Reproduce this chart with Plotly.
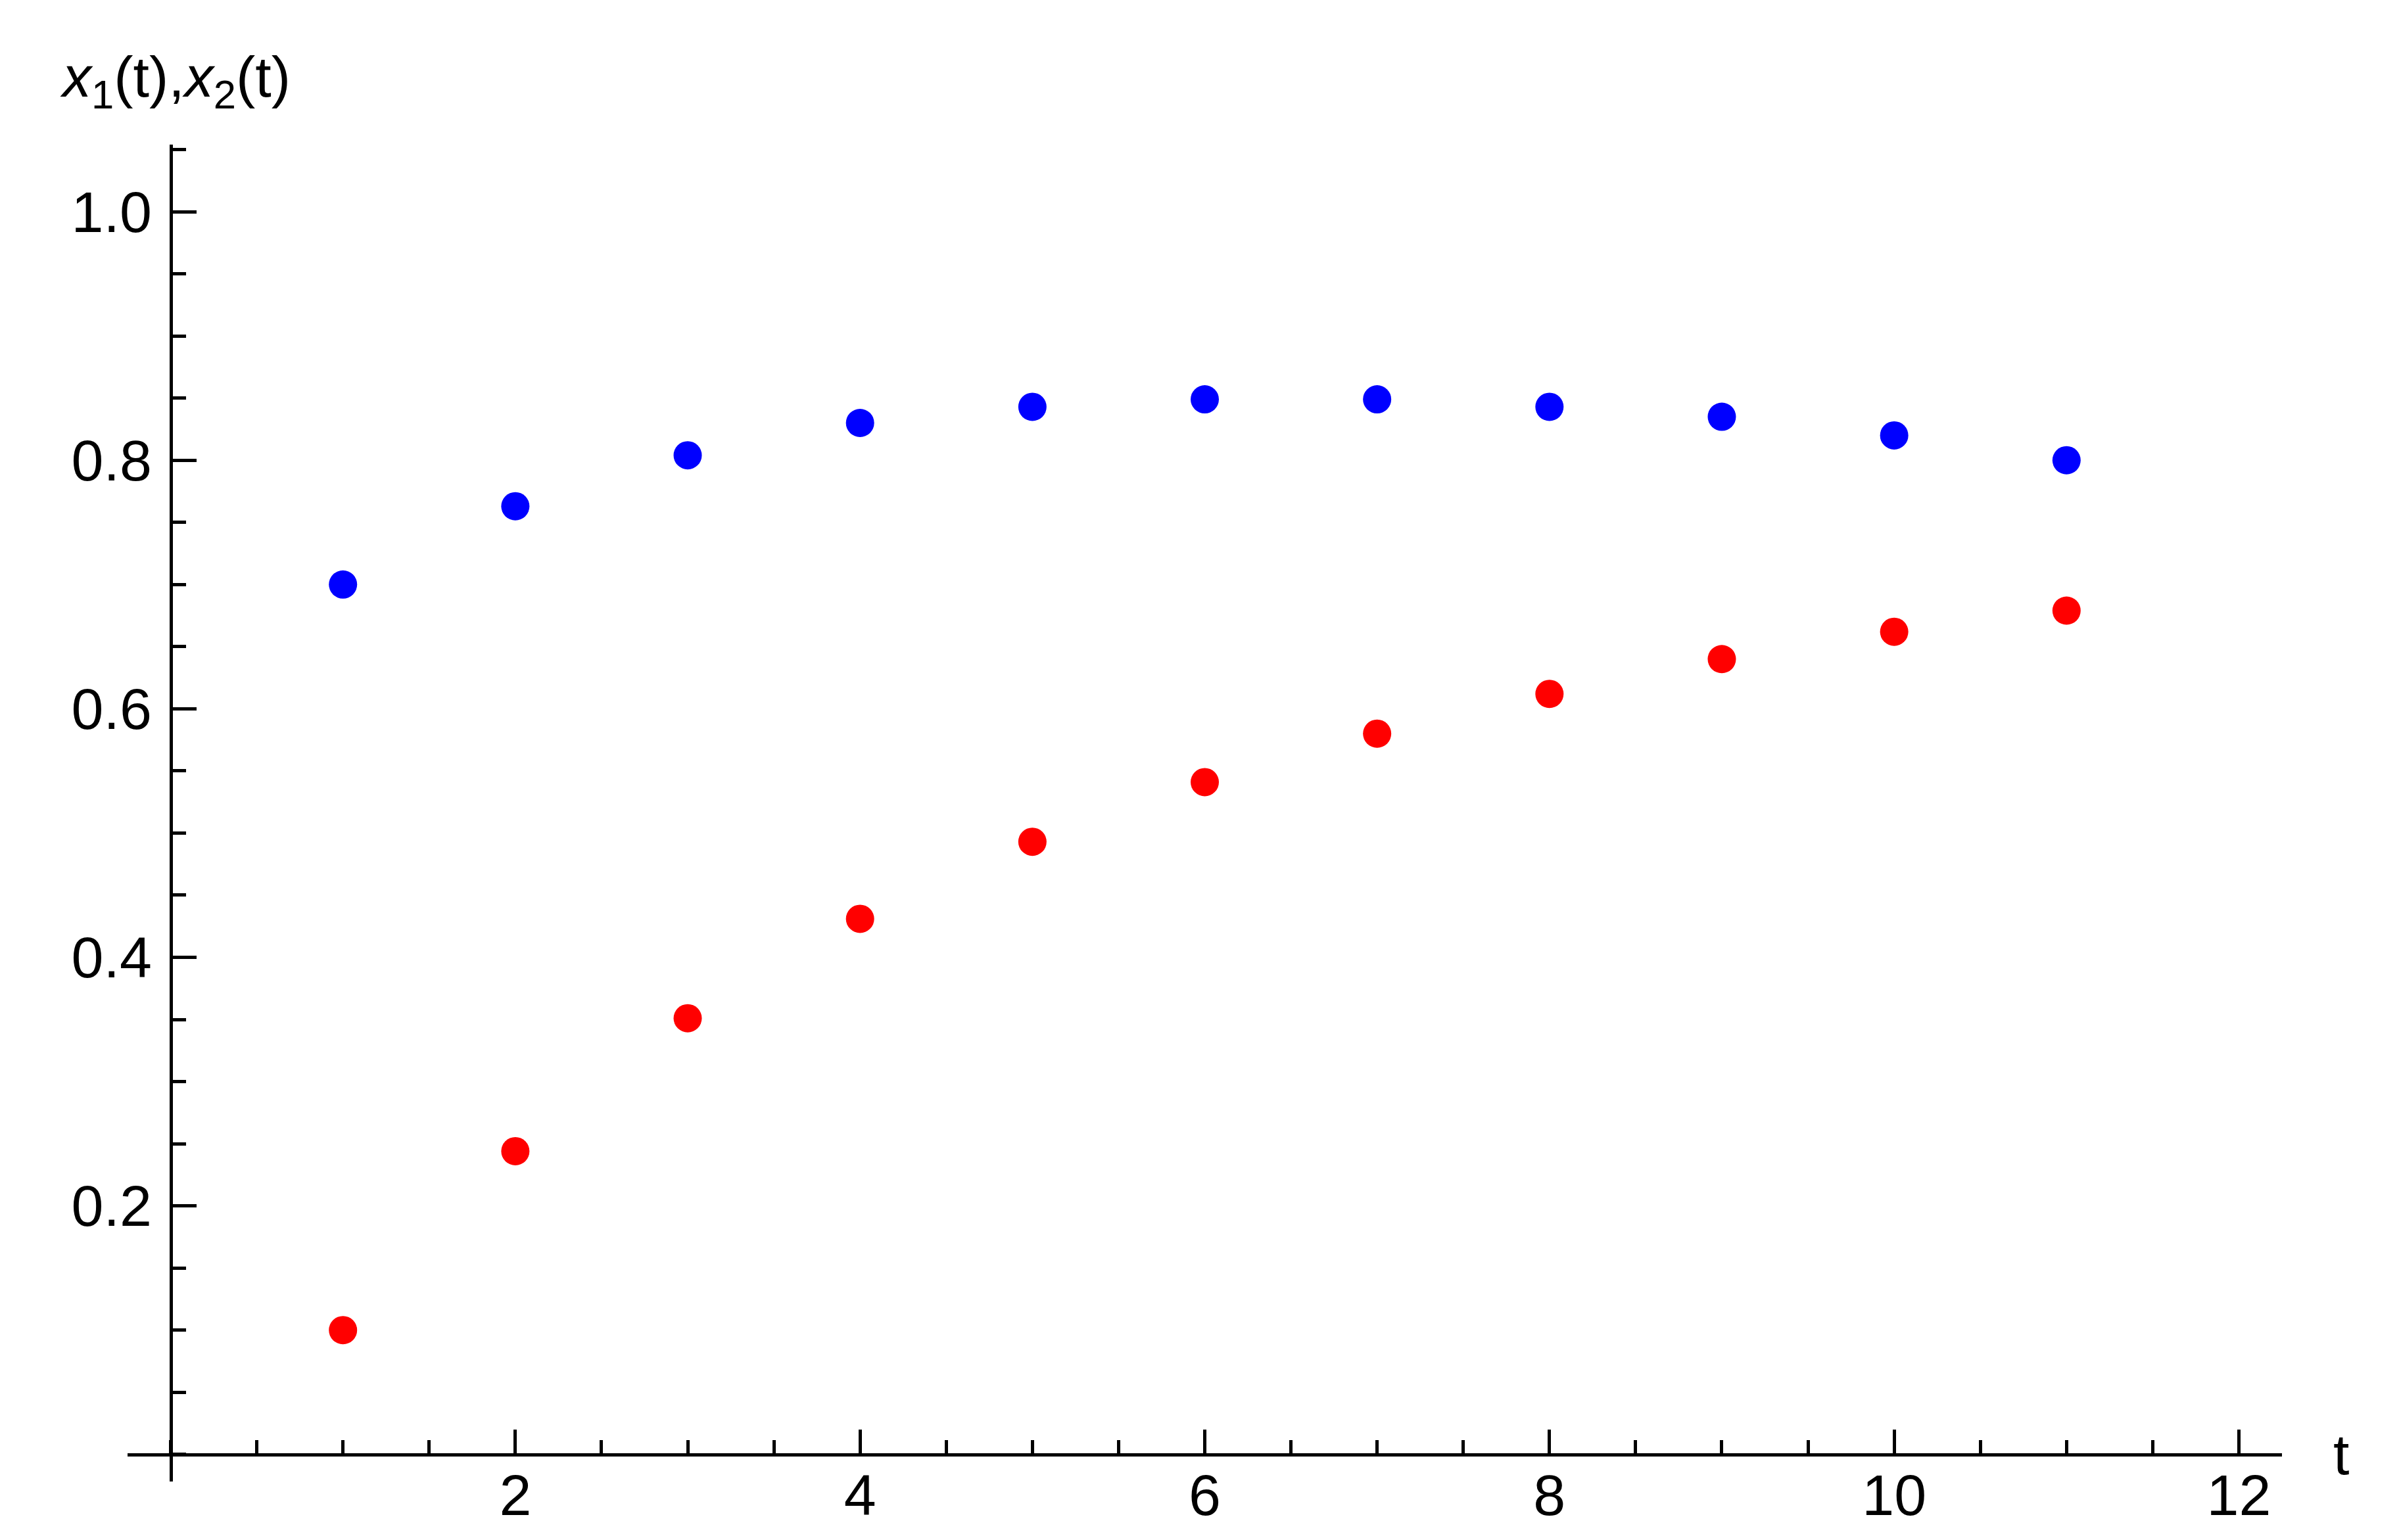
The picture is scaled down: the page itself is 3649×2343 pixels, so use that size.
import plotly.graph_objects as go
import numpy as np

t = [1, 2, 3, 4, 5, 6, 7, 8, 9, 10, 11]
x1 = [0.700, 0.763, 0.804, 0.830, 0.843, 0.849, 0.849, 0.843, 0.835, 0.820, 0.800]
x2 = [0.100, 0.244, 0.351, 0.431, 0.493, 0.541, 0.580, 0.612, 0.640, 0.662, 0.679]
x_ticks = [2, 4, 6, 8, 10, 12]
y_ticks = [0.2, 0.4, 0.6, 0.8, 1.0]
y_tick_text = ["0.2", "0.4", "0.6", "0.8", "1.0"]

W, H = 3649, 2343
ML, MR, MT, MB = 186, 186, 212, 97
XR = [-0.25, 12.25]
YR = [-0.0218, 1.054]
FONT = "Liberation Sans, Arial, sans-serif"

fig = go.Figure()
fig.add_trace(go.Scatter(x=t, y=x1, mode="markers",
                         marker=dict(color="#0000FF", size=43, line=dict(width=0))))
fig.add_trace(go.Scatter(x=t, y=x2, mode="markers",
                         marker=dict(color="#FF0000", size=43, line=dict(width=0))))

xpos = (0 - XR[0]) / (XR[1] - XR[0])
ypos = (0 - YR[0]) / (YR[1] - YR[0])

fig.update_layout(
    width=W, height=H,
    margin=dict(l=ML, r=MR, t=MT, b=MB, pad=0),
    paper_bgcolor="white", plot_bgcolor="white",
    showlegend=False,
    font=dict(family=FONT, size=88, color="black"),
    xaxis=dict(range=XR, anchor="free", position=ypos, showline=True,
               linecolor="black", linewidth=5, showgrid=False, zeroline=False,
               tickmode="array", tickvals=x_ticks, ticks="inside", ticklen=36,
               tickwidth=5, tickcolor="black", ticklabelstandoff=-16,
               tickfont=dict(family=FONT, size=88, color="black"),
               minor=dict(tickmode="array", tickvals=list(np.arange(0, 12.01, 0.5)),
                          ticks="inside", ticklen=20, tickwidth=5, tickcolor="black",
                          showgrid=False)),
    yaxis=dict(range=YR, anchor="free", position=xpos, showline=True,
               linecolor="black", linewidth=5, showgrid=False, zeroline=False,
               tickmode="array", tickvals=y_ticks, ticktext=y_tick_text,
               ticks="inside", ticklen=36, ticklabelstandoff=9,
               tickwidth=5, tickcolor="black",
               tickfont=dict(family=FONT, size=88, color="black"),
               minor=dict(tickmode="array", tickvals=list(np.arange(0, 1.051, 0.05)),
                          ticks="inside", ticklen=20, tickwidth=5, tickcolor="black",
                          showgrid=False)),
    annotations=[
        dict(text="<i>x</i><sub>1</sub>(t),<i>x</i><sub>2</sub>(t)",
             xref="paper", yref="paper",
             x=(81 - ML) / (W - ML - MR), y=(H - MB - 114) / (H - MT - MB),
             xanchor="left", yanchor="middle", showarrow=False,
             font=dict(family=FONT, size=88, color="black")),
        dict(text="t", xref="paper", yref="paper",
             x=(3553 - ML) / (W - ML - MR), y=(H - MB - 2204) / (H - MT - MB),
             xanchor="center", yanchor="middle", showarrow=False,
             font=dict(family=FONT, size=88, color="black")),
    ],
)

fig.write_html("out.html")
